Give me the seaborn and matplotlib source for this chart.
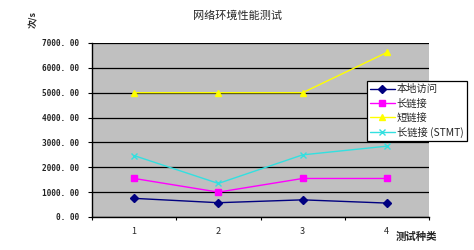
import matplotlib
matplotlib.use("Agg")
import matplotlib.pyplot as plt
import seaborn as sns
import pandas as pd
from matplotlib.ticker import FixedLocator, NullFormatter

categories = [1, 2, 3, 4]
local_access = [750, 575, 690, 560]
long_conn = [1550, 1000, 1550, 1550]
short_conn = [5000, 5000, 5000, 6620]
long_stmt = [2470, 1350, 2500, 2850]
series_names = ["本地访问", "长链接", "短链接", "长链接 (STMT)"]
y_ticks = [0, 1000, 2000, 3000, 4000, 5000, 6000, 7000]

sns.set_theme(style="white")
plt.rcParams['font.family'] = ['Noto Sans CJK SC', 'DejaVu Sans']

fig = plt.figure(figsize=(4.74, 2.5), dpi=100)
ax = fig.add_axes([92/474, 1-217/250, (429-92)/474, (217-43)/250])
ax.set_facecolor("#c0c0c0")

colors = ["#000080", "#ff00ff", "#ffff00", "#33e0e0"]
markers = ["D", "s", "^", "x"]
for name, vals, col, mk in zip(series_names, [local_access, long_conn, short_conn, long_stmt], colors, markers):
    d = pd.DataFrame({"cat": categories, "val": vals})
    sns.lineplot(data=d, x="cat", y="val", color=col, marker=mk, linewidth=1.0,
                 markersize=4.5, markeredgewidth=1.0, markeredgecolor=col,
                 label=name, ax=ax)

ax.set_xlim(0.5, 4.5)
ax.set_ylim(0, 7000)
ax.set_yticks(y_ticks)
ax.set_yticklabels([f"{v:.2f}".replace(".", ". ") for v in y_ticks], fontsize=5.6,
                   family=['DejaVu Sans Mono'], fontweight="bold", color="#222222")
ax.yaxis.grid(True, color="black", linewidth=0.9)
ax.xaxis.grid(False)
ax.set_axisbelow(True)

ax.xaxis.set_major_locator(FixedLocator([0.5, 1.5, 2.5, 3.5, 4.5]))
ax.xaxis.set_major_formatter(NullFormatter())
ax.xaxis.set_minor_locator(FixedLocator(categories))
ax.set_xticklabels([str(c) for c in categories], minor=True, fontsize=6.5)
ax.tick_params(axis="x", which="major", direction="out", length=2.5, width=0.8, bottom=True, color="black")
ax.tick_params(axis="x", which="minor", length=0, pad=7)
ax.tick_params(axis="y", direction="out", length=3, width=0.8, left=True, color="black", pad=6)

for s in ["top", "right"]:
    ax.spines[s].set_visible(False)
for s in ["left", "bottom"]:
    ax.spines[s].set_color("black")
    ax.spines[s].set_linewidth(1.0)

ax.set_xlabel("")
ax.set_ylabel("")
fig.text(238/474, 1-16/250, "网络环境性能测试", ha="center", va="center", fontsize=8)
fig.text(416/474, 1-237/250, "测试种类", ha="center", va="center", fontsize=7.5, fontweight="bold")
fig.text(33/474, 1-20/250, "次/s", ha="center", va="center", fontsize=6.5, rotation=90, fontweight="bold")

h, l = ax.get_legend_handles_labels()
leg = ax.legend(h, l,
                loc="upper left", bbox_to_anchor=(367/474, 1-81/250),
                bbox_transform=fig.transFigure, fontsize=7.4, frameon=True,
                fancybox=False, framealpha=1, edgecolor="black", borderaxespad=0,
                borderpad=0.3, labelspacing=0.4, handlelength=2.4, handletextpad=0.2)
leg.get_frame().set_linewidth(0.9)

fig.savefig("out.png", dpi=100, facecolor="white")
